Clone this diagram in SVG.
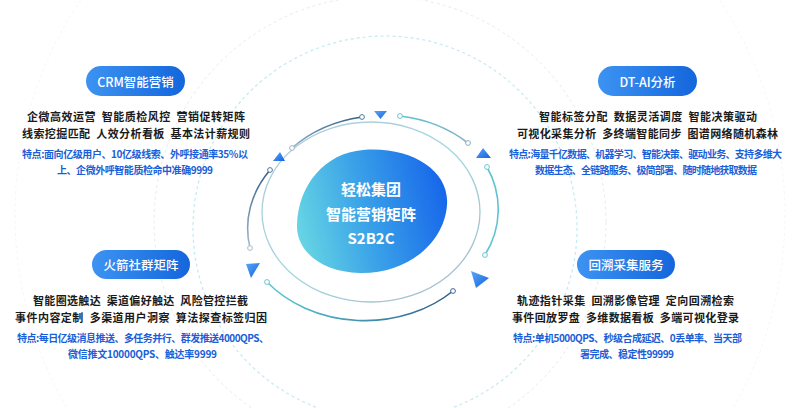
<svg xmlns="http://www.w3.org/2000/svg" width="800" height="408" viewBox="0 0 800 408">
  <defs>
    <linearGradient id="pillGrad" x1="0" y1="0" x2="1" y2="0">
      <stop offset="0" stop-color="#3d93f2"/>
      <stop offset="1" stop-color="#1466dc"/>
    </linearGradient>
    <linearGradient id="blobGrad" x1="0" y1="0.6" x2="1" y2="0.4">
      <stop offset="0" stop-color="#66d4e4"/>
      <stop offset="0.45" stop-color="#3aa2e8"/>
      <stop offset="1" stop-color="#1767ea"/>
    </linearGradient>
    <linearGradient id="triGrad" x1="0" y1="0" x2="1" y2="1">
      <stop offset="0" stop-color="#5aa8f4"/>
      <stop offset="1" stop-color="#1462e0"/>
    </linearGradient>
    <linearGradient id="ringGrad" x1="0" y1="0" x2="1" y2="1">
      <stop offset="0" stop-color="#b8c9d6"/>
      <stop offset="0.5" stop-color="#9fd6df"/>
      <stop offset="1" stop-color="#a7b9c9"/>
    </linearGradient>
    <linearGradient id="arcDark" x1="0" y1="1" x2="1" y2="0">
      <stop offset="0" stop-color="#8fb3c9"/>
      <stop offset="1" stop-color="#2f5f86"/>
    </linearGradient>
    <linearGradient id="arcCyan" x1="0" y1="0" x2="1" y2="1">
      <stop offset="0" stop-color="#59c4d1"/>
      <stop offset="1" stop-color="#8fb0c4"/>
    </linearGradient>
    <linearGradient id="arcBottom" x1="1" y1="0" x2="0" y2="0">
      <stop offset="0" stop-color="#2c5c8a"/>
      <stop offset="1" stop-color="#5ccbd6"/>
    </linearGradient>
    <linearGradient id="arcLeft" x1="0" y1="1" x2="0" y2="0">
      <stop offset="0" stop-color="#a9bdcc"/>
      <stop offset="1" stop-color="#34618a"/>
    </linearGradient>
  </defs>
  <style>
    .pill { fill: url(#pillGrad); }
    .pillText { font-family: "Noto Sans CJK SC", "Noto Sans", sans-serif; font-size: 12.5px; font-weight: 500; fill: #ffffff; text-anchor: middle; dominant-baseline: central; }
    .feat { font-family: "Noto Sans CJK SC", "Noto Sans", sans-serif; font-size: 11px; font-weight: 700; fill: #1a1a1a; text-anchor: middle; dominant-baseline: central; white-space: pre; }
    .note { font-family: "Noto Sans CJK SC", "Noto Sans", sans-serif; font-size: 10px; font-weight: 700; fill: #1a5ed8; text-anchor: middle; dominant-baseline: central; }
    .center { font-family: "Noto Sans CJK SC", "Noto Sans", sans-serif; font-size: 15px; font-weight: 700; fill: #ffffff; text-anchor: middle; dominant-baseline: central; }
    .deco { fill: none; stroke-dasharray: 3 3; }
    .arc { fill: none; stroke-width: 1.6; stroke-linecap: round; }
    .dot { fill: #ffffff; stroke-width: 1; }
    .tri { fill: url(#triGrad); }
  </style>

  <rect x="0" y="0" width="800" height="408" fill="#ffffff"/>

  <!-- decorative background rings -->
  <g id="background-rings">
    <circle class="deco" cx="385" cy="228" r="192" stroke="#6cc9d6" stroke-opacity="0.4" stroke-width="1.2"/>
    <circle class="deco" cx="380" cy="222" r="226" stroke="#8aa3b6" stroke-opacity="0.22" stroke-width="1"/>
    <circle class="deco" cx="400" cy="215" r="385" stroke="#9fb8c8" stroke-opacity="0.13" stroke-width="1"/>
  </g>

  <!-- connectors: rings, arcs, arrowheads -->
  <g id="connectors">
    <ellipse cx="371" cy="212" rx="109" ry="90" fill="none" stroke="url(#ringGrad)" stroke-width="1.3"/>

    <path class="arc" d="M 292 148 A 125 102 0 0 1 362 117" stroke="url(#arcDark)"/>
    <path class="arc" d="M 400 116 A 125 102 0 0 1 468 143" stroke="url(#arcCyan)"/>
    <path class="arc" d="M 487 167 A 125 102 0 0 1 485 255" stroke="#5ec3d0"/>
    <path class="arc" d="M 453 291 A 125 102 0 0 1 267 282" stroke="url(#arcBottom)"/>
    <path class="arc" d="M 250 248 A 125 102 0 0 1 270 170" stroke="url(#arcLeft)"/>

    <circle class="dot" cx="292" cy="148" r="2.4" stroke="#9fb6c6"/>
    <circle class="dot" cx="362" cy="117" r="2.4" stroke="#4d7c9c"/>
    <circle class="dot" cx="400" cy="116" r="2.4" stroke="#6ac6d2"/>
    <circle class="dot" cx="468" cy="143" r="2.4" stroke="#8aaec2"/>
    <circle class="dot" cx="487" cy="167" r="2.4" stroke="#6ac6d2"/>
    <circle class="dot" cx="485" cy="255" r="2.4" stroke="#6ac6d2"/>
    <circle class="dot" cx="453" cy="291" r="2.4" stroke="#3a6a94"/>
    <circle class="dot" cx="267" cy="282" r="2.4" stroke="#6ac6d2"/>
    <circle class="dot" cx="250" cy="248" r="2.4" stroke="#a9bdcc"/>
    <circle class="dot" cx="270" cy="170" r="2.4" stroke="#4d7c9c"/>

    <polygon class="tri" points="374,111 387,111 380.5,119"/>
    <polygon class="tri" points="476,158 491,158 483,148"/>
    <polygon class="tri" points="471,271 489,278 476,288"/>
    <polygon class="tri" points="246,264 260,263 251,278"/>
    <polygon class="tri" points="273,161 285,161 280,152"/>
  </g>

  <!-- center node -->
  <g id="node-center">
    <path d="M 363 150 C 410 146 450 170 447 205 C 444 245 405 274 360 273 C 320 272 296 250 297 225 C 298 185 325 153 363 150 Z" fill="url(#blobGrad)"/>
    <text class="center" x="371" y="188">轻松集团</text>
    <text class="center" x="371" y="213">智能营销矩阵</text>
    <text class="center" x="371" y="237">S2B2C</text>
  </g>

  <!-- CRM node -->
  <g id="node-crm">
    <rect class="pill" x="86" y="66" width="99" height="30" rx="15"/>
    <text class="pillText" x="135.5" y="81">CRM智能营销</text>
    <text class="feat" x="136" y="116" textLength="218" lengthAdjust="spacing" xml:space="preserve">企微高效运营  智能质检风控  营销促转矩阵</text>
    <text class="feat" x="136" y="132.5" textLength="228" lengthAdjust="spacing" xml:space="preserve">线索挖掘匹配  人效分析看板  基本法计薪规则</text>
    <text class="note" x="135" y="153" textLength="226" lengthAdjust="spacing">特点:面向亿级用户、10亿级线索、外呼接通率35%以</text>
    <text class="note" x="135" y="169" textLength="156" lengthAdjust="spacing">上、企微外呼智能质检命中准确9999</text>
  </g>

  <!-- DT-AI node -->
  <g id="node-dtai">
    <rect class="pill" x="598" y="66" width="99" height="30" rx="15"/>
    <text class="pillText" x="647.5" y="81">DT-AI分析</text>
    <text class="feat" x="648" y="116" textLength="218" lengthAdjust="spacing" xml:space="preserve">智能标签分配  数据灵活调度  智能决策驱动</text>
    <text class="feat" x="647.5" y="132.5" textLength="261" lengthAdjust="spacing" xml:space="preserve">可视化采集分析  多终端智能同步  图谱网络随机森林</text>
    <text class="note" x="645.5" y="153" textLength="273" lengthAdjust="spacing">特点:海量千亿数据、机器学习、智能决策、驱动业务、支持多维大</text>
    <text class="note" x="646" y="169" textLength="222" lengthAdjust="spacing">数据生态、全链路服务、极简部署、随时随地获取数据</text>
  </g>

  <!-- Rocket community node -->
  <g id="node-rocket">
    <rect class="pill" x="92" y="250" width="98" height="29" rx="14.5"/>
    <text class="pillText" x="141" y="264.5">火箭社群矩阵</text>
    <text class="feat" x="140.5" y="300" textLength="215" lengthAdjust="spacing" xml:space="preserve">智能圈选触达  渠道偏好触达  风险管控拦截</text>
    <text class="feat" x="141" y="317" textLength="252" lengthAdjust="spacing" xml:space="preserve">事件内容定制  多渠道用户洞察  算法探查标签归因</text>
    <text class="note" x="143" y="337" textLength="252" lengthAdjust="spacing">特点:每日亿级消息推送、多任务并行、群发推送4000QPS、</text>
    <text class="note" x="142.5" y="353" textLength="149" lengthAdjust="spacing">微信推文10000QPS、触达率9999</text>
  </g>

  <!-- Trace collection node -->
  <g id="node-trace">
    <rect class="pill" x="577" y="250" width="98" height="29" rx="14.5"/>
    <text class="pillText" x="626" y="264.5">回溯采集服务</text>
    <text class="feat" x="625.5" y="300" textLength="217" lengthAdjust="spacing" xml:space="preserve">轨迹指针采集  回溯影像管理  定向回溯检索</text>
    <text class="feat" x="625.5" y="317" textLength="227" lengthAdjust="spacing" xml:space="preserve">事件回放罗盘  多维数据看板  多端可视化登录</text>
    <text class="note" x="627.5" y="337" textLength="229" lengthAdjust="spacing">特点:单机5000QPS、秒级合成延迟、0丢单率、当天部</text>
    <text class="note" x="627" y="353" textLength="94" lengthAdjust="spacing">署完成、稳定性99999</text>
  </g>
</svg>
